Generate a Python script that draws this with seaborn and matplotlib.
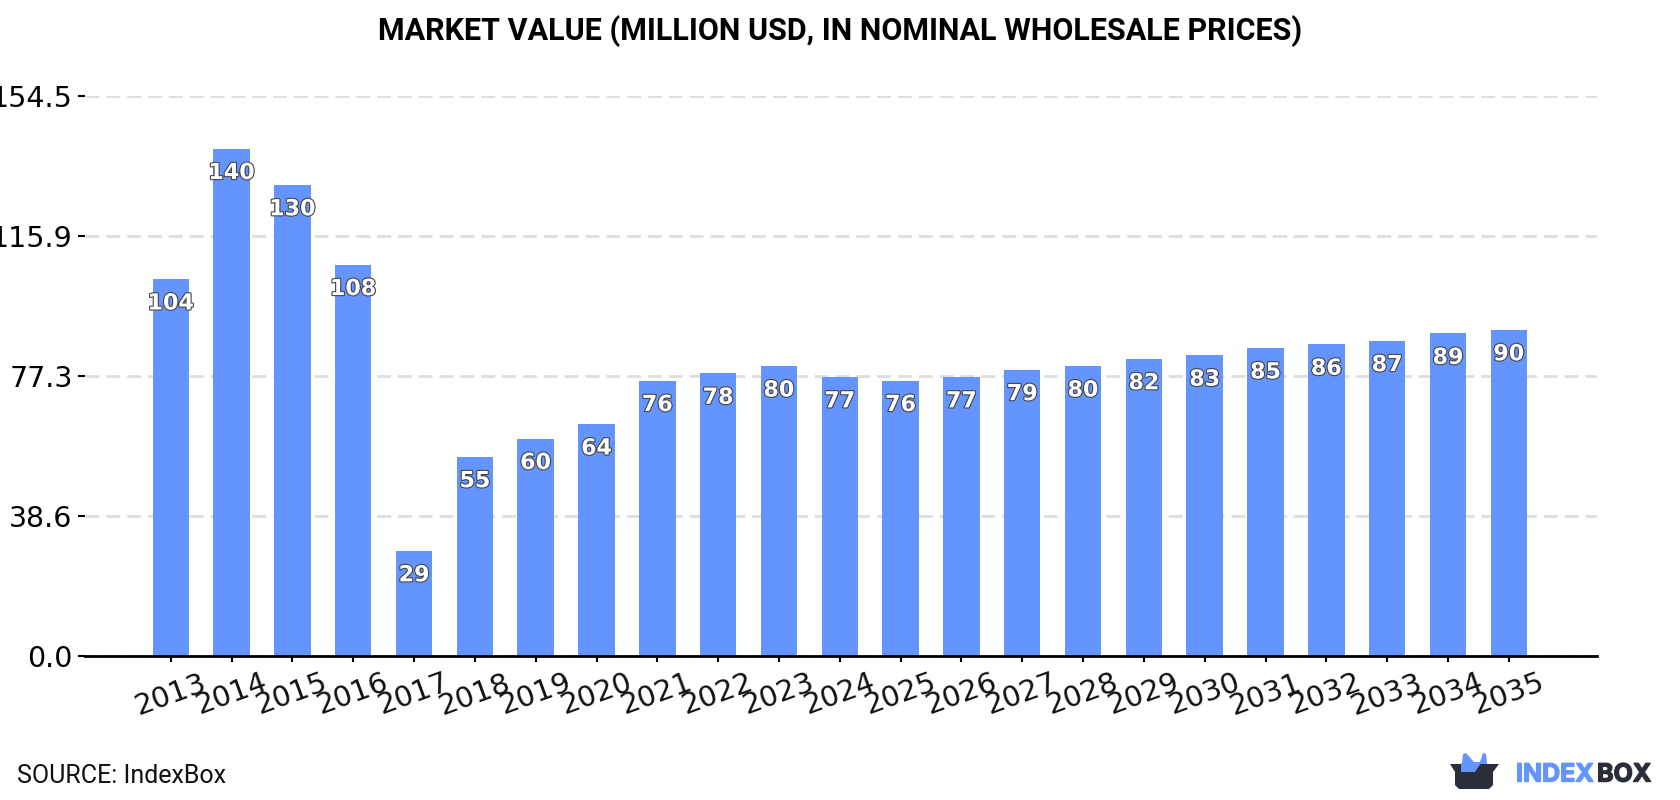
import matplotlib
matplotlib.use("Agg")
import matplotlib.pyplot as plt
import matplotlib.patheffects as pe
from matplotlib.patches import Polygon
from matplotlib.transforms import IdentityTransform
import pandas as pd
import seaborn as sns

years = [str(y) for y in range(2013, 2036)]
values = [104, 140, 130, 108, 29, 55, 60, 64, 76, 78, 80, 77, 76, 77, 79, 80, 82, 83, 85, 86, 87, 89, 90]
y_ticks = [0.0, 38.6, 77.3, 115.9, 154.5]
title = "MARKET VALUE (MILLION USD, IN NOMINAL WHOLESALE PRICES)"
source = "SOURCE: IndexBox"

BAR = "#6495ff"
DARK = "#2b2d3a"

sns.set_theme(style="white")
W, H, DPI = 1680, 800, 100
fig = plt.figure(figsize=(W / DPI, H / DPI), dpi=DPI, facecolor="white")
ax = fig.add_axes([85 / W, 1 - 656 / H, (1597 - 85) / W, (656 - 96) / H])

df = pd.DataFrame({"year": years, "value": values})
sns.barplot(data=df, x="year", y="value", color=BAR, saturation=1, width=0.6,
            linewidth=0, ax=ax, zorder=2)

ax.set_xlim(-1.41, 23.45)
ax.set_ylim(0, 154.5)
ax.set_xlabel("")
ax.set_ylabel("")
ax.set_yticks(y_ticks, [f"{t:.1f}" for t in y_ticks])
ax.tick_params(axis="y", length=5, width=1.5, color="black", labelsize=20.5, labelcolor="black", pad=4, left=True)
ax.tick_params(axis="x", length=4, width=1.5, color="black", labelsize=21, labelcolor="#111111", pad=5, bottom=True, labelrotation=20)
ax.grid(axis="y", color="#dedede", linestyle=(0, (5, 2.5)), linewidth=2, zorder=0)
ax.grid(axis="x", visible=False)
ax.set_axisbelow(True)
for side in ("top", "right", "left"):
    ax.spines[side].set_visible(False)
ax.spines["bottom"].set_color("black")
ax.spines["bottom"].set_linewidth(2)

# Value labels inside the top of each bar, white with a dark outline
outline = [pe.withStroke(linewidth=1.6, foreground="#444444")]
offset_px = 24.5
for i, v in enumerate(values):
    ax.annotate(f"{v}", (i, v), xytext=(0, -offset_px * 72 / DPI), textcoords="offset points",
                ha="center", va="center", fontsize=16, fontweight="bold", color="white",
                family="DejaVu Sans", path_effects=outline, zorder=5)

fig.text(840 / W, 1 - 31 / H, title, ha="center", va="center", fontsize=22, fontweight="bold",
         family="Roboto", color="black")
fig.text(17 / W, 1 - 776 / H, source, ha="left", va="center", fontsize=18, family="Roboto", color="#111111")

# Brand mark: open box with a blue crown, followed by the wordmark
px = IdentityTransform()
def to_px(pts):
    return [(x, H - y) for x, y in pts]

fig.add_artist(Polygon(to_px([(1461, 772), (1463, 754), (1466, 753), (1474, 762), (1480, 762),
                              (1483, 753), (1486, 754), (1488, 772)]),
                       closed=True, facecolor=BAR, edgecolor="none", transform=px))
fig.add_artist(Polygon(to_px([(1450, 764), (1499, 764), (1493, 772), (1493, 785), (1489, 789),
                              (1459, 789), (1455, 785), (1455, 772)]),
                       closed=True, facecolor=DARK, edgecolor="none", transform=px))
fig.add_artist(Polygon(to_px([(1461, 763), (1481, 763), (1475, 772), (1461, 772)]),
                       closed=True, facecolor=BAR, edgecolor="none", transform=px))
for word, x_px, colour in (("INDEX", 1516, BAR), ("BOX", 1597, DARK)):
    fig.text(x_px / W, 1 - 775 / H, word, ha="left", va="center", fontsize=18, fontweight="bold",
             family="Inter", color=colour,
             path_effects=[pe.withStroke(linewidth=1, foreground=colour)])

fig.savefig("out.png", dpi=DPI, facecolor="white")
